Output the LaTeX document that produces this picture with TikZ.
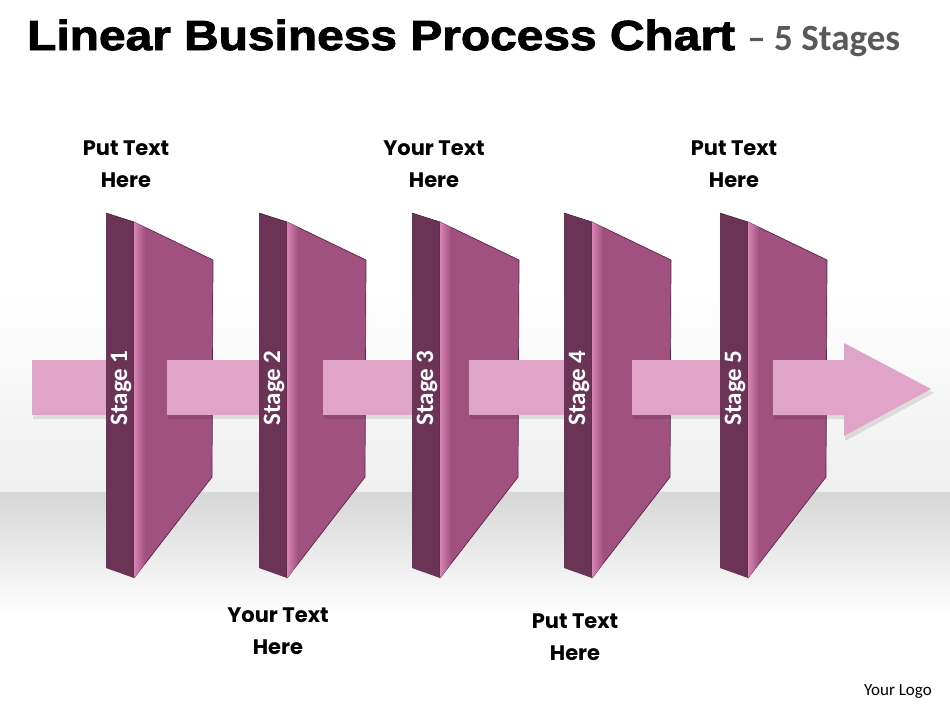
\documentclass[tikz,border=0pt]{standalone}
\usepackage{fontspec}
\setmainfont{Poppins}
\newfontfamily\titlefont[FakeStretch=1.14,FakeBold=2.2]{Liberation Sans}
\newfontfamily\calib{Carlito}
\definecolor{stripc}{HTML}{6B3456}
\definecolor{facec}{HTML}{A0517F}
\definecolor{hlc}{HTML}{D884B6}
\definecolor{edgec}{HTML}{5A2546}
\definecolor{arrowc}{HTML}{E0A4C8}
\definecolor{subc}{HTML}{595959}
\tikzset{
  callout/.style={font=\bfseries\fontsize{21}{32}\selectfont, align=center, text=black, inner sep=0pt},
  stagelabel/.style={font=\calib\bfseries\fontsize{25}{25}\selectfont, text=white, rotate=90, inner sep=0pt},
  barfill/.style={fill=arrowc},
  barshadow/.style={fill=black, opacity=0.10},
  stripfill/.style={fill=stripc},
  facefill/.style={fill=facec, draw=edgec, line width=0.7pt, line join=round},
}
\begin{document}
\begin{tikzpicture}[x=1pt,y=-1pt]
\useasboundingbox (0,0) rectangle (950,713);
% background
\fill[white] (0,0) rectangle (950,713);
\shade[top color=white, bottom color=gray!13] (0,290) rectangle (950,492);
\shade[top color=gray!32, bottom color=white] (0,492) rectangle (950,615);
% title
\node[anchor=base west, inner sep=0pt] (title) at (27,50)
  {\titlefont\bfseries\fontsize{42}{42}\selectfont Linear Business Process Chart};
\node[anchor=base west, inner sep=0pt, text=subc] (sub) at ([xshift=12pt]title.base east)
  {\calib\bfseries\fontsize{37}{37}\selectfont – 5 Stages};
% panels and arrow segments
\foreach \X/\S/\n in {106/32/1, 259/167/2, 412/323/3, 564/469/4, 720/632/5}{
  \fill[barshadow] (\S+1,363) rectangle (\X+2,419);
  \fill[barfill] (\S,360) rectangle (\X+2,415);
  \fill[stripfill] (\X,213) -- (\X+28,222) -- (\X+28,578) -- (\X,568) -- cycle;
  \path[facefill] (\X+28,222) -- (\X+107,260) -- (\X+106,477) -- (\X+28,578) -- cycle;
  \begin{scope}
    \clip (\X+28,222) -- (\X+107,260) -- (\X+106,477) -- (\X+28,578) -- cycle;
    \shade[left color=hlc, right color=facec] (\X+28,215) rectangle (\X+39,580);
  \end{scope}
  \draw[edgec!80!black, line width=0.6pt] (\X,213) -- (\X+28,222);
  \node[stagelabel] (stage\n) at (\X+15,388) {Stage \n};
}
% final arrow
\fill[barshadow] (774,363) -- (845,363) -- (845,346) -- (934,393) -- (845,441) -- (845,419) -- (774,419) -- cycle;
\fill[barfill] (773,360) -- (844,360) -- (844,343) -- (931,389) -- (844,436) -- (844,415) -- (773,415) -- cycle;
% callouts
\node[callout] (t1) at (126,164) {Put Text\\Here};
\node[callout] (t2) at (434,164) {Your Text\\Here};
\node[callout] (t3) at (734,164) {Put Text\\Here};
\node[callout] (b1) at (278,631) {Your Text\\Here};
\node[callout] (b2) at (575,637) {Put Text\\Here};
\node[anchor=base east, inner sep=0pt] (logo) at (932,695)
  {\calib\fontsize{17}{17}\selectfont Your Logo};
\end{tikzpicture}
\end{document}
